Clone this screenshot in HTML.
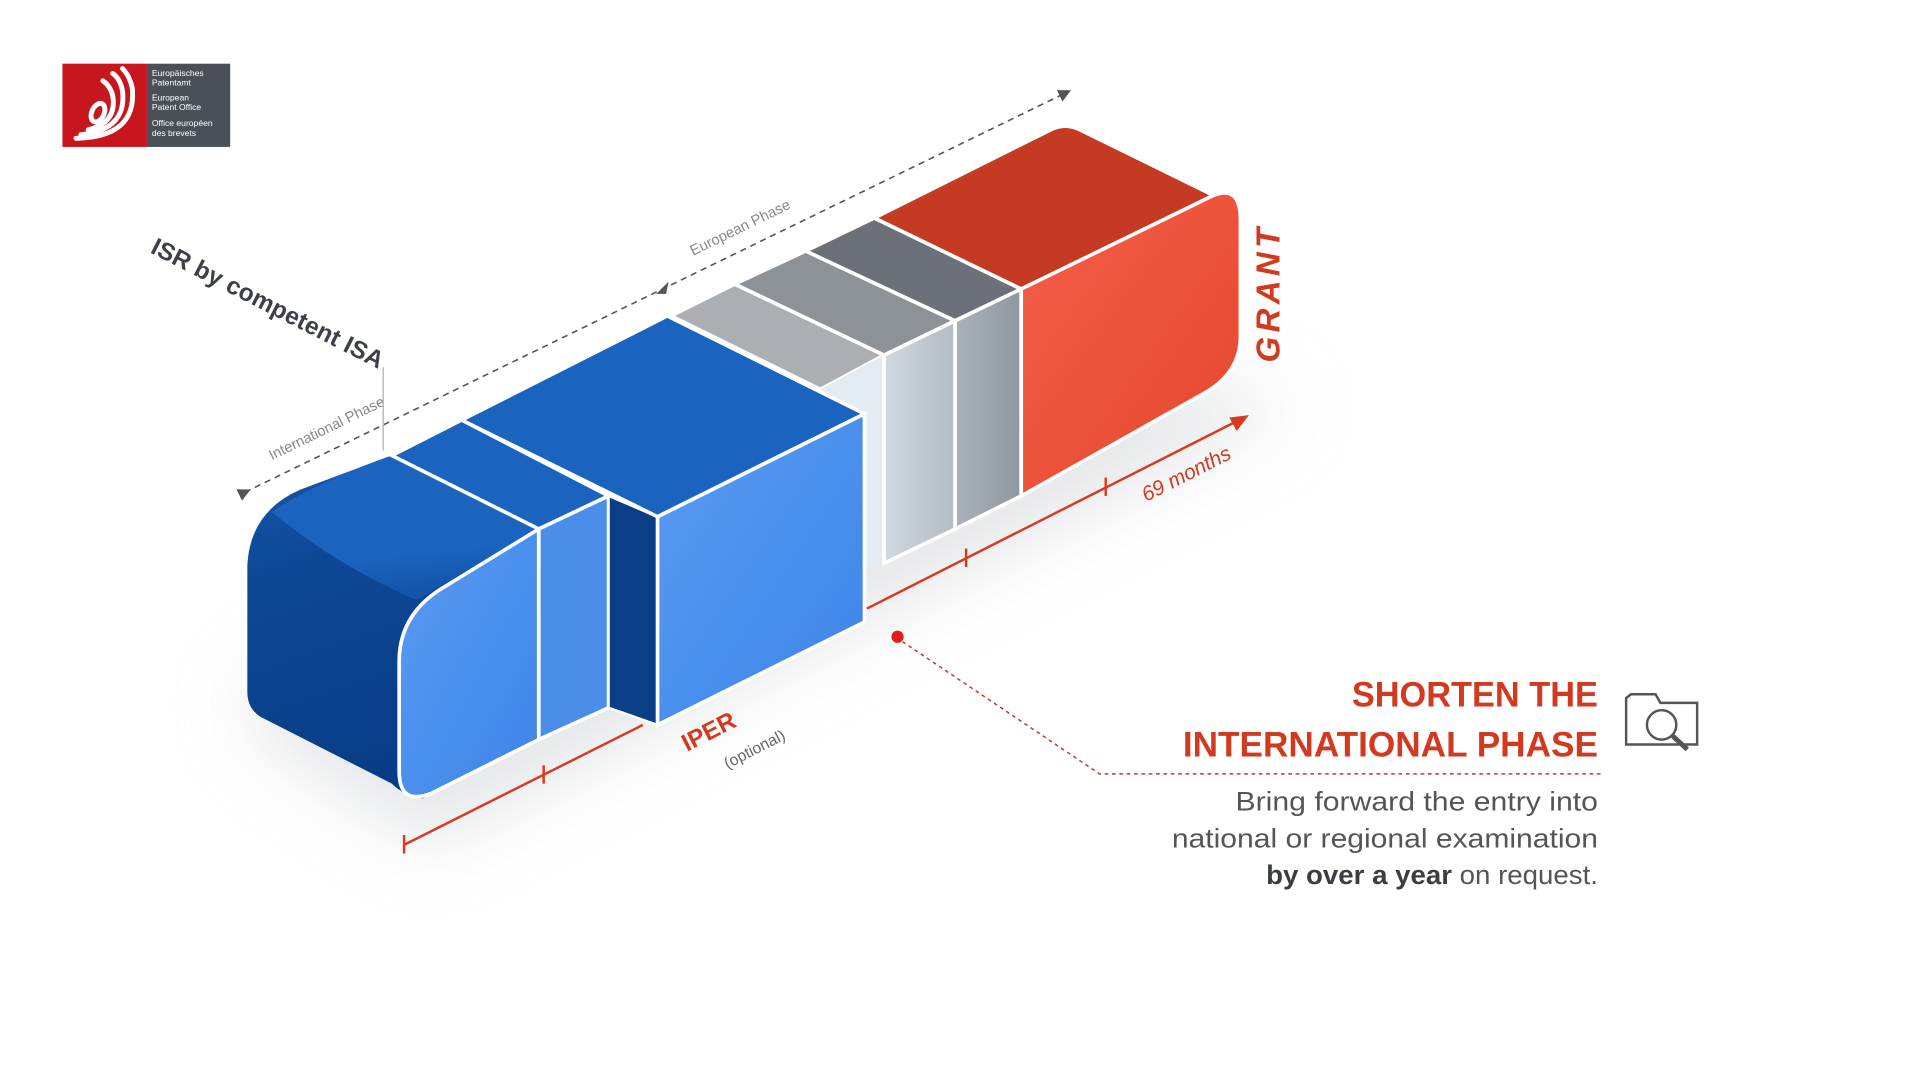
<!DOCTYPE html>
<html><head><meta charset="utf-8"><style>html,body{margin:0;padding:0;background:#fff}svg{display:block}</style></head>
<body>
<svg width="1920" height="1080" viewBox="0 0 1568 882" xmlns="http://www.w3.org/2000/svg" font-family="Liberation Sans, sans-serif">
<defs>
<linearGradient id="dk" x1="0" y1="0" x2="0.3" y2="1"><stop offset="0" stop-color="#1656ad"/><stop offset="0.35" stop-color="#0d4896"/><stop offset="1" stop-color="#083c85"/></linearGradient>
<linearGradient id="tp" x1="0" y1="0" x2="0.2" y2="1"><stop offset="0" stop-color="#1a64bf"/><stop offset="0.75" stop-color="#1a64bf"/><stop offset="1" stop-color="#1455ac"/></linearGradient>
<linearGradient id="lb" x1="0" y1="0" x2="1" y2="1"><stop offset="0" stop-color="#5a9cf5"/><stop offset="1" stop-color="#3d84e6"/></linearGradient>
<linearGradient id="rd" x1="0" y1="0" x2="1" y2="1"><stop offset="0" stop-color="#f65e48"/><stop offset="1" stop-color="#e4472d"/></linearGradient>
<linearGradient id="g1" x1="0" y1="0" x2="1" y2="0"><stop offset="0" stop-color="#cfd8df"/><stop offset="1" stop-color="#b3bcc4"/></linearGradient>
<linearGradient id="g2" x1="0" y1="0" x2="1" y2="0"><stop offset="0" stop-color="#a9b2ba"/><stop offset="1" stop-color="#8f979f"/></linearGradient>
<filter id="bl" x="-50%" y="-50%" width="200%" height="200%"><feGaussianBlur stdDeviation="30"/></filter>
<marker id="ag" markerWidth="8" markerHeight="8" refX="4" refY="4" orient="auto"><path d="M0,0 L8,4 L0,8 Z" fill="#555"/></marker>
</defs>
<polygon points="210,600 350,690 760,480 1000,360 1060,330 900,300 200,560" fill="#cfd2d6" opacity="0.55" filter="url(#bl)"/>
<rect x="51" y="52" width="69" height="68" fill="#c8161e"/>
<rect x="120" y="52" width="68" height="68" fill="#4b5058"/>
<g fill="none" stroke="#fff" stroke-width="4" stroke-linecap="round">
<ellipse cx="80" cy="92" rx="5" ry="8" transform="rotate(25 80 92)"/>
<path d="M72,106 Q96,100 92,78 Q90,70 84,66"/>
<path d="M66,110 Q104,106 100,74 Q98,64 92,60"/>
<path d="M62,113 Q112,112 108,72 Q106,62 100,56"/>
</g>
<g fill="#fff" font-size="7">
<text x="124" y="62">Europäisches</text><text x="124" y="70">Patentamt</text>
<text x="124" y="82">European</text><text x="124" y="90">Patent Office</text>
<text x="124" y="103">Office européen</text><text x="124" y="111">des brevets</text>
</g>
<line x1="200" y1="402" x2="870" y2="76" stroke="#555" stroke-width="1.3" stroke-dasharray="5,4" marker-start="url(#ag)" marker-end="url(#ag)"/>
<path d="M536,240 L546,230 L544,240 Z" fill="#555"/>
<text transform="translate(222,376) rotate(-26)" font-size="12" fill="#888">International Phase</text>
<text transform="translate(566,209) rotate(-26)" font-size="12" fill="#888">European Phase</text>
<text transform="translate(122,206) rotate(27)" font-size="20" font-weight="bold" fill="#3c4048" textLength="210">ISR by competent ISA</text>
<line x1="313" y1="300" x2="313" y2="368" stroke="#bbb" stroke-width="1.2"/>
<polygon points="548,258 600,232 722,290 670,318" fill="#abafb4" stroke="#fff" stroke-width="3"/>
<polygon points="600,232 658,205 780,262 722,290" fill="#8d9198" stroke="#fff" stroke-width="3"/>
<polygon points="658,205 714,178 834,236 780,262" fill="#6c7078" stroke="#fff" stroke-width="3"/>
<path d="M714,178 L858,106 Q870,100 882,106 L992,160 L834,236 Z" fill="#c53a22" stroke="#fff" stroke-width="3"/>
<polygon points="670,318 722,290 722,460 706,468 706,338" fill="#e2ecf2"/>
<polygon points="722,290 780,262 780,432 722,460" fill="url(#g1)" stroke="#fff" stroke-width="3"/>
<polygon points="780,262 834,236 834,405 780,432" fill="url(#g2)" stroke="#fff" stroke-width="3"/>
<path d="M834,236 L990,160 Q1013,150 1013,180 L1013,275 Q1013,305 982,322 L834,405 Z" fill="url(#rd)" stroke="#fff" stroke-width="3"/>
<path d="M202,462 Q204,418 245,400 L320,372 L440,432 L440,604 L345,652 Q330,650 320,640 L212,585 Q202,578 202,565 Z" fill="url(#dk)"/>
<path d="M320,372 L440,432 L340,490 Q275,462 222,418 Q262,392 320,372 Z" fill="url(#tp)"/>
<path d="M326,540 Q326,500 365,478 L440,432 L440,604 L352,648 Q326,658 326,630 Z" fill="url(#lb)" stroke="#fff" stroke-width="3"/>
<polygon points="320,372 377,343 497,405 440,432" fill="#1a64bf" stroke="#fff" stroke-width="3"/>
<polygon points="440,432 497,405 497,578 440,604" fill="#4a8ee9" stroke="#fff" stroke-width="3"/>
<polygon points="497,405 537,422 537,592 497,578" fill="#0a3f88" stroke="#fff" stroke-width="2"/>
<polygon points="377,343 545,258 706,338 537,422" fill="#1a64bf" stroke="#fff" stroke-width="3"/>
<polygon points="537,422 706,338 706,508 537,592" fill="url(#lb)" stroke="#fff" stroke-width="3"/>
<g stroke="#d9391f" stroke-width="2" fill="none">
<line x1="330" y1="690" x2="525" y2="592"/>
<line x1="330" y1="682" x2="330" y2="697"/>
<line x1="444" y1="625" x2="444" y2="640"/>
<line x1="708" y1="497" x2="1012" y2="343"/>
<line x1="789" y1="448" x2="789" y2="463"/>
<line x1="903" y1="390" x2="903" y2="405"/>
</g>
<path d="M1020,339 L1004,341 L1010,352 Z" fill="#d9391f"/>
<text transform="translate(936,410) rotate(-27)" font-size="17" font-style="italic" fill="#d23a20">69 months</text>
<text transform="translate(1045,296) rotate(-90)" font-size="27" font-style="italic" font-weight="bold" fill="#d23a20" textLength="110">GRANT</text>
<text transform="translate(561,614) rotate(-27)" font-size="20" font-weight="bold" fill="#d23a20">IPER</text>
<text transform="translate(594,628) rotate(-27)" font-size="13" fill="#666">(optional)</text>
<circle cx="733" cy="520" r="5" fill="#e01e1e"/>
<polyline points="737,524 898,632 1308,632" fill="none" stroke="#c0392b" stroke-width="1.2" stroke-dasharray="3,3"/>
<g text-anchor="end">
<text x="1305" y="577" font-size="29" font-weight="bold" fill="#d23a20" textLength="201" lengthAdjust="spacingAndGlyphs">SHORTEN THE</text>
<text x="1305" y="618" font-size="29" font-weight="bold" fill="#d23a20" textLength="339" lengthAdjust="spacingAndGlyphs">INTERNATIONAL PHASE</text>
<text x="1305" y="662" font-size="22" fill="#555" textLength="296" lengthAdjust="spacingAndGlyphs">Bring forward the entry into</text>
<text x="1305" y="692" font-size="22" fill="#555" textLength="348" lengthAdjust="spacingAndGlyphs">national or regional examination</text>
<text x="1305" y="722" font-size="22" fill="#555" textLength="271" lengthAdjust="spacingAndGlyphs"><tspan font-weight="bold" fill="#3a3d42">by over a year</tspan> on request.</text>
</g>
<g fill="none" stroke="#555" stroke-width="2">
<path d="M1328,570 L1328,608 L1386,608 L1386,574 L1356,574 L1352,567 L1332,567 Z"/>
<circle cx="1357" cy="592" r="12"/>
<line x1="1366" y1="601" x2="1378" y2="612" stroke-width="4"/>
</g>
</svg>
</body></html>
